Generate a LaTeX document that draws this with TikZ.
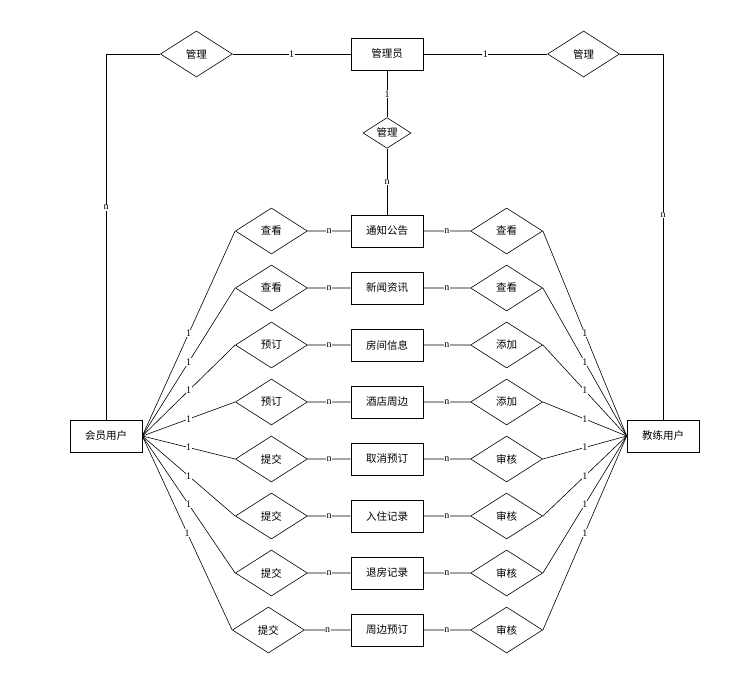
\documentclass[tikz,border=0pt]{standalone}
\usepackage{fontspec}
\newfontfamily\cjk{Noto Sans CJK SC}
\newfontfamily\cardfont{Liberation Serif}
\usetikzlibrary{positioning, shapes.geometric}
\tikzset{
  ent/.style={draw, fill=white, minimum width=72pt, minimum height=32pt,
              inner sep=1pt, font=\cjk\fontsize{10.5}{12}\selectfont},
  rel/.style={diamond, draw, fill=white, minimum width=72pt, minimum height=46pt,
              inner sep=0pt, font=\cjk\fontsize{10.5}{12}\selectfont},
  card/.style={fill=white, inner sep=0.6pt, font=\cardfont\fontsize{10}{10}\selectfont},
}

\begin{document}
\begin{tikzpicture}[x=1pt, y=-1pt, node distance=24.4pt, line width=0.6pt]
  \useasboundingbox (0,0) rectangle (733,674);

  % administrator
  \node[ent] (gly) at (387,54) {管理员};
  \node[rel, left=118pt of gly] (gl1) {管理};
  \node[rel, right=124pt of gly] (gl2) {管理};
  \node[rel, minimum width=48pt, minimum height=30pt, below=47pt of gly] (gl3) {管理};

  % users
  \node[ent] (hy) at (106,436) {会员用户};
  \node[ent] (jl) at (663,436) {教练用户};

  % entities
  \node[ent] (e1) at (387,231) {通知公告};
  \node[ent, below=of e1] (e2) {新闻资讯};
  \node[ent, below=of e2] (e3) {房间信息};
  \node[ent, below=of e3] (e4) {酒店周边};
  \node[ent, below=of e4] (e5) {取消预订};
  \node[ent, below=of e5] (e6) {入住记录};
  \node[ent, below=of e6] (e7) {退房记录};
  \node[ent, below=of e7] (e8) {周边预订};

  % relations of the member
  \node[rel, left=43pt of e1] (l1) {查看};
  \node[rel, left=43pt of e2] (l2) {查看};
  \node[rel, left=43pt of e3] (l3) {预订};
  \node[rel, left=43pt of e4] (l4) {预订};
  \node[rel, left=43pt of e5] (l5) {提交};
  \node[rel, left=43pt of e6] (l6) {提交};
  \node[rel, left=43pt of e7] (l7) {提交};
  \node[rel, left=46pt of e8] (l8) {提交};

  % relations of the coach
  \node[rel, right=47pt of e1] (r1) {查看};
  \node[rel, right=47pt of e2] (r2) {查看};
  \node[rel, right=47pt of e3] (r3) {添加};
  \node[rel, right=47pt of e4] (r4) {添加};
  \node[rel, right=47pt of e5] (r5) {审核};
  \node[rel, right=47pt of e6] (r6) {审核};
  \node[rel, right=47pt of e7] (r7) {审核};
  \node[rel, right=47pt of e8] (r8) {审核};

  % top links
  \draw (gl1.east) -- node[card] {1} (gly.west);
  \draw (gly.east) -- node[card] {1} (gl2.west);
  \draw (gly.south) -- node[card] {1} (gl3.north);
  \draw (gl3.south) -- node[card] {n} (e1.north);
  \draw (gl1.west) -| node[card, pos=0.71] {n} (hy.north);
  \draw (gl2.east) -| node[card, pos=0.72] {n} (jl.north);

  % rows
  \draw (hy.east) -- node[card] {1} (l1.west) (l1.east) -- node[card] {n} (e1.west)
        (e1.east) -- node[card] {n} (r1.west) (r1.east) -- node[card] {1} (jl.west);
  \draw (hy.east) -- node[card] {1} (l2.west) (l2.east) -- node[card] {n} (e2.west)
        (e2.east) -- node[card] {n} (r2.west) (r2.east) -- node[card] {1} (jl.west);
  \draw (hy.east) -- node[card] {1} (l3.west) (l3.east) -- node[card] {n} (e3.west)
        (e3.east) -- node[card] {n} (r3.west) (r3.east) -- node[card] {1} (jl.west);
  \draw (hy.east) -- node[card] {1} (l4.west) (l4.east) -- node[card] {n} (e4.west)
        (e4.east) -- node[card] {n} (r4.west) (r4.east) -- node[card] {1} (jl.west);
  \draw (hy.east) -- node[card] {1} (l5.west) (l5.east) -- node[card] {n} (e5.west)
        (e5.east) -- node[card] {n} (r5.west) (r5.east) -- node[card] {1} (jl.west);
  \draw (hy.east) -- node[card] {1} (l6.west) (l6.east) -- node[card] {n} (e6.west)
        (e6.east) -- node[card] {n} (r6.west) (r6.east) -- node[card] {1} (jl.west);
  \draw (hy.east) -- node[card] {1} (l7.west) (l7.east) -- node[card] {n} (e7.west)
        (e7.east) -- node[card] {n} (r7.west) (r7.east) -- node[card] {1} (jl.west);
  \draw (hy.east) -- node[card] {1} (l8.west) (l8.east) -- node[card] {n} (e8.west)
        (e8.east) -- node[card] {n} (r8.west) (r8.east) -- node[card] {1} (jl.west);
\end{tikzpicture}
\end{document}
